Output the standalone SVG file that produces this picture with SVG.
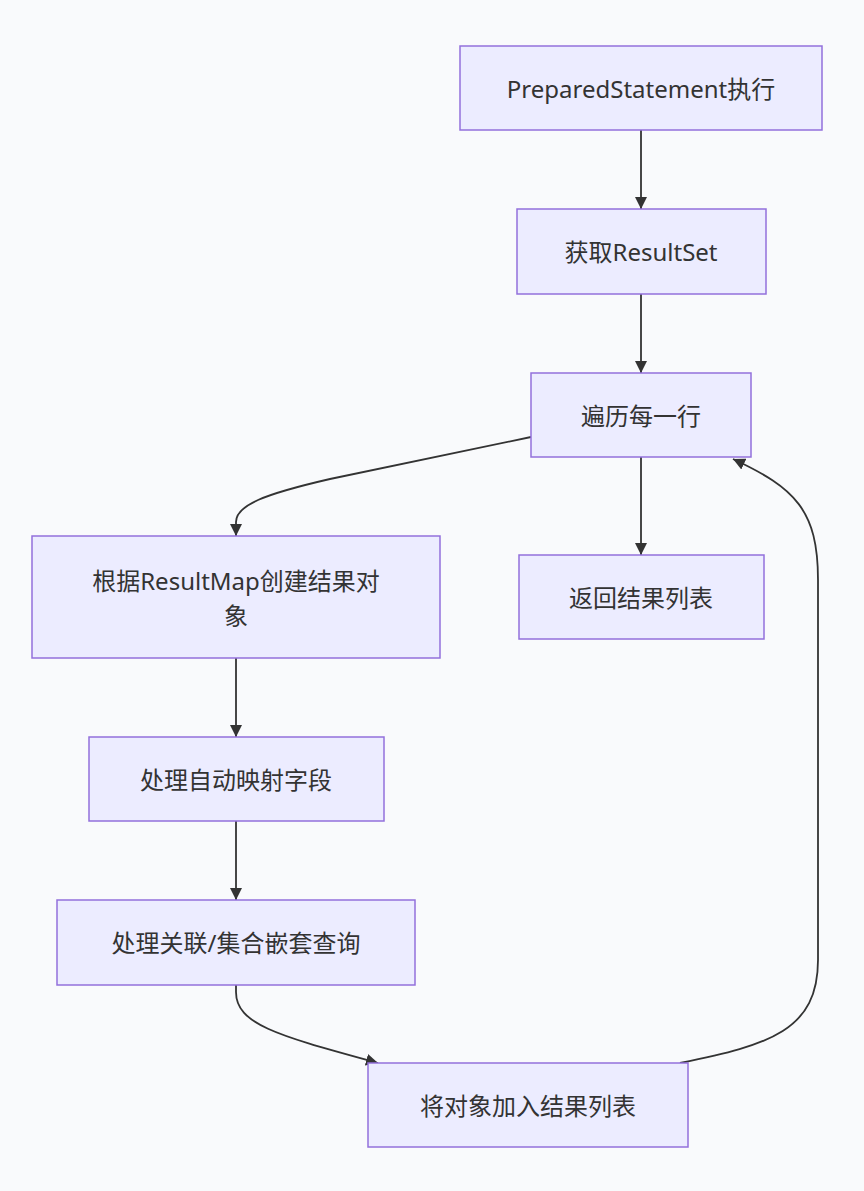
<svg xmlns="http://www.w3.org/2000/svg" width="864" height="1191" viewBox="0 0 864 1191">
<defs>
<style>
.node rect{fill:#ECECFF;stroke:#9370DB;stroke-width:1.5}
.node text{font-family:"Noto Sans","Noto Sans CJK SC",sans-serif;font-size:24px;fill:#333;text-anchor:middle;dominant-baseline:central}
.edge{fill:none;stroke:#333;stroke-width:1.8}
</style>
<marker id="arr" viewBox="0 0 10 10" refX="10" refY="5" markerWidth="12" markerHeight="12" markerUnits="userSpaceOnUse" orient="auto">
<path d="M0,0 L10,5 L0,10 z" fill="#333"/>
</marker>
</defs>
<rect width="864" height="1191" fill="#F9FAFC"/>
<g id="connectors">
<path class="edge" d="M641,130 L641,209" marker-end="url(#arr)"/>
<path class="edge" d="M641,294 L641,373" marker-end="url(#arr)"/>
<path class="edge" d="M641,457 L641,555" marker-end="url(#arr)"/>
<path class="edge" d="M531,437 L330,479 C265,494 236,505 236,522 L236,536" marker-end="url(#arr)"/>
<path class="edge" d="M236,658 L236,737" marker-end="url(#arr)"/>
<path class="edge" d="M236,821 L236,900" marker-end="url(#arr)"/>
<path class="edge" d="M236,985 L236,992 C236,1025 280,1036 378,1063" marker-end="url(#arr)"/>
<path class="edge" d="M680,1063 C770,1045 818,1030 818,960 L818,580 C818,510 795,488 733,459" marker-end="url(#arr)"/>
</g>
<g id="n1" class="node"><rect x="460" y="46" width="362" height="84"/><text x="641" y="88">PreparedStatement执行</text></g>
<g id="n2" class="node"><rect x="517" y="209" width="249" height="85"/><text x="641" y="251">获取ResultSet</text></g>
<g id="n3" class="node"><rect x="531" y="373" width="220" height="84"/><text x="641" y="415">遍历每一行</text></g>
<g id="n4" class="node"><rect x="32" y="536" width="408" height="122"/><text x="236" y="580">根据ResultMap创建结果对</text><text x="236" y="615">象</text></g>
<g id="n5" class="node"><rect x="519" y="555" width="245" height="84"/><text x="641" y="597">返回结果列表</text></g>
<g id="n6" class="node"><rect x="89" y="737" width="295" height="84"/><text x="236" y="779">处理自动映射字段</text></g>
<g id="n7" class="node"><rect x="57" y="900" width="358" height="85"/><text x="236" y="942">处理关联/集合嵌套查询</text></g>
<g id="n8" class="node"><rect x="368" y="1063" width="320" height="84"/><text x="528" y="1105">将对象加入结果列表</text></g>
</svg>
